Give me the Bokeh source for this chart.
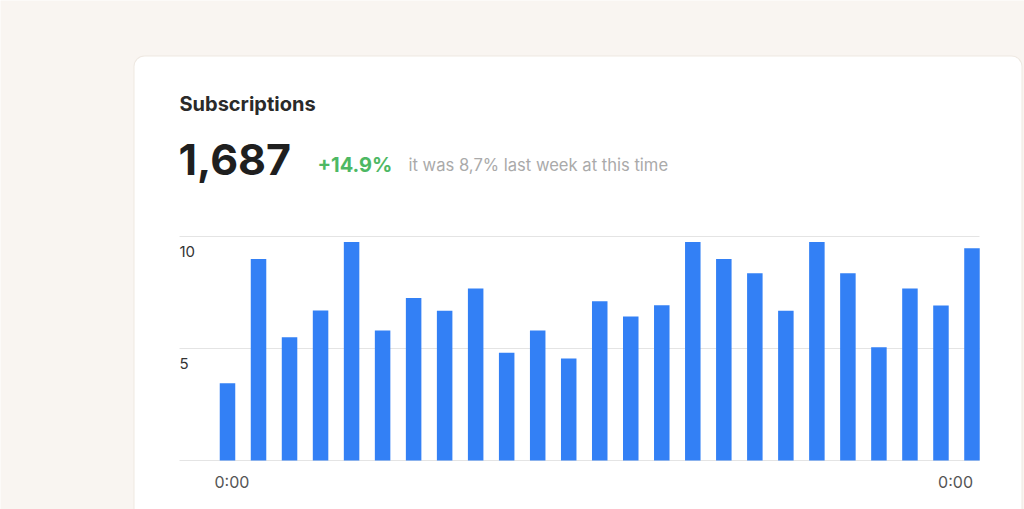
from bokeh.plotting import figure
from bokeh.models import Range1d, BoxAnnotation, Label
from bokeh.core.properties import value
from bokeh.embed import file_html
from bokeh.resources import INLINE

# ---- data ----
hours = list(range(25))
subscriptions = [3.45, 9.0, 5.5, 6.7, 9.75, 5.8, 7.25, 6.68, 7.68, 4.81, 5.8, 4.55,
                 7.11, 6.43, 6.93, 9.75, 8.99, 8.36, 6.68, 9.75, 8.36, 5.06, 7.68, 6.92, 9.48]
y_ticks = [0, 5, 10]
y_tick_labels = ["5", "10"]
x_tick_labels = ["0:00", "0:00"]
title_text = "Subscriptions"
total_text = "1,687"
change_text = "+14.9%"
note_text = "it was 8,7% last week at this time"

# ---- layout (page pixels) ----
W, H = 1024, 509
OFF = 0
PITCH = 31.02
X0 = 227.0
Y0 = 460.0
UNIT = 22.4


def dx(px):
    return (px - X0) / PITCH


def dy(py):
    return (Y0 - py) / UNIT


BG = "#f9f5f1"
FONT = "Inter"

p = figure(width=W, height=H, output_backend="svg", toolbar_location=None,
           x_range=Range1d(dx(OFF), dx(OFF + W)), y_range=Range1d(dy(OFF + H), dy(OFF)),
           x_axis_type=None, y_axis_type=None, min_border=0,
           background_fill_color=BG, border_fill_color=BG, outline_line_color=None)

# card (shadow + white)
p.add_layout(BoxAnnotation(left=dx(133), right=dx(1022), top=dy(55), bottom=dy(600),
                           fill_color="#eee8e1", fill_alpha=1, line_color=None,
                           border_radius=11, level="underlay"))
p.add_layout(BoxAnnotation(left=dx(134), right=dx(1021), top=dy(56), bottom=dy(600),
                           fill_color="#ffffff", fill_alpha=1, line_color=None,
                           border_radius=10, level="underlay"))

# grid lines
p.segment(x0=dx(179), x1=dx(979), y0=y_ticks, y1=y_ticks, line_color="#e4e4e4", line_width=1)

# bars
p.vbar(x=hours, top=subscriptions, width=0.5, fill_color="#3380f5", line_color=None)

# y tick labels (inside, below grid lines)
p.text(x=[dx(179)] * len(y_tick_labels), y=[t - 14.5 / UNIT for t in y_ticks[1:]], text=y_tick_labels,
       text_font=value(FONT), text_font_size="15px", text_color="#333333",
       text_align="left", text_baseline="alphabetic")

# x tick labels
p.text(x=[hours[0]], y=[dy(481)], text=[x_tick_labels[0]], x_offset=-13,
       text_font=value(FONT), text_font_size="16px", text_color="#555555",
       text_align="left", text_baseline="alphabetic")
p.text(x=[hours[-1]], y=[dy(481)], text=[x_tick_labels[1]], x_offset=1,
       text_font=value(FONT), text_font_size="16px", text_color="#555555",
       text_align="right", text_baseline="alphabetic")

# headline texts
p.add_layout(Label(x=dx(179), y=dy(103), text=title_text, text_font=FONT, text_font_size="20px",
                   text_font_style="bold", text_color="#2a2a2a", text_baseline="alphabetic"))
p.add_layout(Label(x=dx(178), y=dy(159), text=total_text, text_font=FONT, text_font_size="43px",
                   text_font_style="bold", text_color="#1f1f1f", text_baseline="alphabetic"))
p.add_layout(Label(x=dx(317), y=dy(164), text=change_text, text_font=FONT, text_font_size="20px",
                   text_font_style="bold", text_color="#4db863", text_baseline="alphabetic"))
p.add_layout(Label(x=dx(408), y=dy(164.5), text=note_text, text_font=FONT, text_font_size="16.6px",
                   text_color="#aaaaaa", text_baseline="alphabetic"))

open("out.html", "w").write(file_html(p, INLINE))
